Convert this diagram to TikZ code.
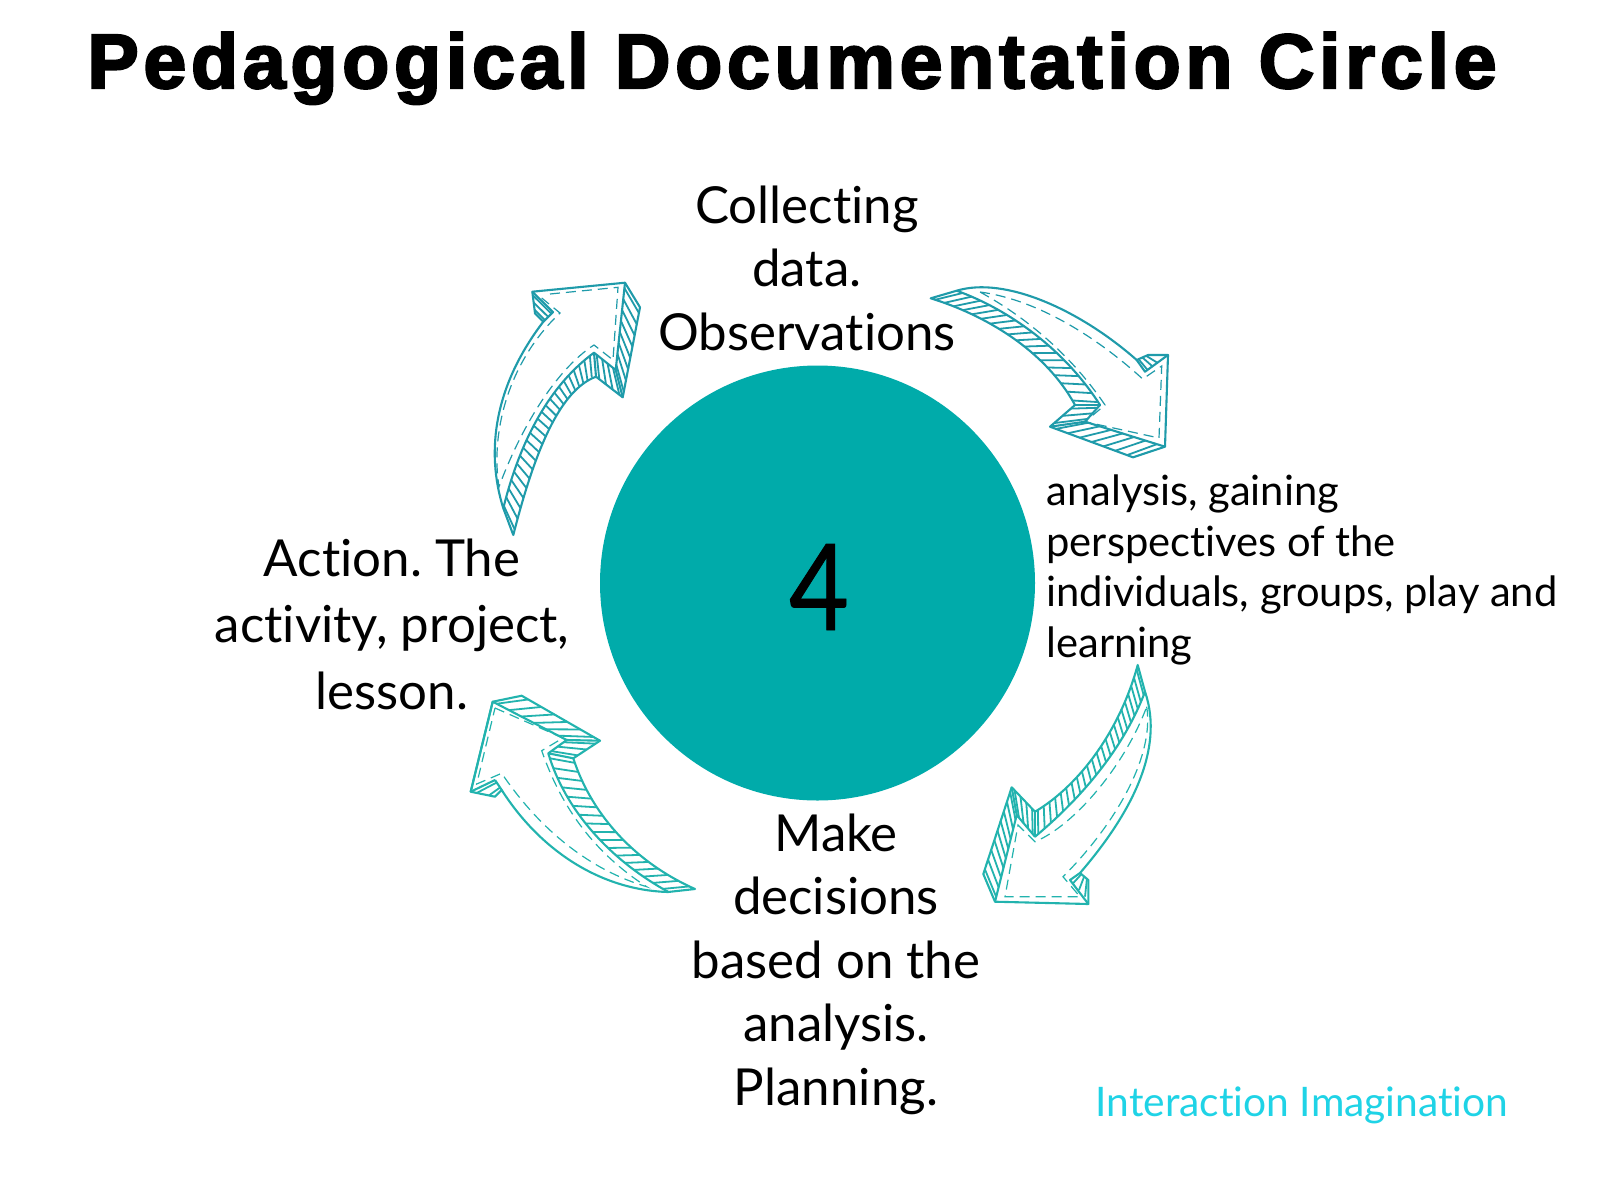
\documentclass[tikz,border=0pt]{standalone}
\usepackage{fontspec}
\usepackage{graphicx}
\setmainfont{Lato}[Ligatures={NoCommon,NoRare},Contextuals=NoAlternate]
\newfontfamily\titlef[FakeBold=3,LetterSpace=6.2]{Liberation Sans Bold}
\newfontfamily\fourf[FakeBold=0.8]{Lato}
\definecolor{circ}{HTML}{00ABAA}
\definecolor{darkt}{HTML}{1F9BAA}
\definecolor{lightt}{HTML}{22B3AE}
\definecolor{cyanT}{HTML}{1FD3E6}
\colorlet{ac}{darkt}
\tikzset{
 body/.style={draw=ac,fill=white,line width=2.1pt,line join=round},
 edge/.style={draw=ac,line width=2.1pt,line join=round},
 hatchl/.style={draw=ac,line width=1.8pt},
 dashl/.style={draw=ac,line width=1.2pt,dash pattern=on 10pt off 6pt},
 txt/.style={text=black,inner sep=0pt,align=center}
}
\newcommand\hb[4][0]{\foreach \i in {1,...,#4}{%
 \pgfmathsetmacro\hu{(\i-0.5)/#4}%
 \pgfmathsetmacro\hv{min(1,max(0,\hu+#1))}%
 \path #2 coordinate[pos=\hu] (hu);
 \path #3 coordinate[pos=\hv] (hv);
 \draw[hatchl] (hu)--(hv);}}
\begin{document}
\frenchspacing
\begin{tikzpicture}[x=1pt,y=-1pt]
\useasboundingbox (0,0) rectangle (1600,1200);
\fill[white] (0,0) rectangle (1600,1200);
\node[txt,anchor=base,font=\titlef\fontsize{77}{77}\selectfont] (title) at (792,88) {Pedagogical Documentation Circle};
\node[circle,fill=circ,minimum size=435pt,inner sep=0pt] (hub) at (817.5,583) {};
\node[txt,anchor=center,font=\fourf\fontsize{120}{120}\selectfont] (four) at (819,587) {\scalebox{.86}[1]{4}};
\node[txt,anchor=center,font=\frenchspacing\fontsize{51}{63.5}\selectfont] (collect) at (807,268) {Collecting\\data.\\Observations};
\node[txt,anchor=center,align=left,font=\frenchspacing\fontsize{41.7}{50.7}\selectfont] (anal) at (1302,570) {analysis, gaining\\perspectives of the\\individuals, groups, play and\\learning};
\node[txt,anchor=center,font=\frenchspacing\fontsize{51}{66.5}\selectfont] (act) at (392,624) {Action. The\\activity, project,\\lesson.};
\node[txt,anchor=center,font=\frenchspacing\fontsize{51}{63.5}\selectfont] (make) at (836,964) {Make\\decisions\\based on the\\analysis.\\Planning.};
\node[txt,anchor=center,text=cyanT,font=\fontsize{40.7}{41}\selectfont] (brand) at (1302,1105) {Interaction Imagination};

% arrow 1: top right
\colorlet{ac}{darkt}
\path[body] (930.7,298.3) -- (956.7,290.7) .. controls (1005,276) and (1080,310) .. (1136.7,360) -- (1148,355) -- (1168,355) -- (1165,446.7) -- (1133,457.3) -- (1050,426.7) -- (1075,405) .. controls (1045,350) and (985,315) .. cycle;
\hb[0.01]{(930.7,298.3) .. controls (985,315) and (1045,350) .. (1075,405)}{(956.7,290.7) .. controls (1010,310) and (1065,350) .. (1100,405)}{18}
\path[edge] (956.7,290.7) .. controls (1010,310) and (1065,350) .. (1100,405) -- (1085,421.7) -- (1165,446.7);
\path[edge] (1050,426.7) -- (1085,421.7);
\path[edge] (1075,405) -- (1100,405);
\hb{(1075,405) -- (1050,426.7)}{(1100,405) -- (1085,421.7)}{3}
\hb[-0.03]{(1050,426.7) -- (1133,457.3)}{(1085,421.7) -- (1165,446.7)}{7}
\path[edge] (1136.7,360) -- (1145,371.7) -- (1168,355);
\hb{(1136.7,360) -- (1148,355)}{(1145,371.7) -- (1160,361)}{3}
\path[dashl] (980,292) .. controls (1040,300) and (1100,340) .. (1142.7,379) -- (1161.7,366) -- (1159,438) -- (1085,421.7) -- (1105,405) .. controls (1080,368) and (1040,325) .. cycle;

% arrow 2: bottom right
\colorlet{ac}{lightt}
\path[body] (1137.7,665) -- (1145,691.7) .. controls (1165,750) and (1130,815) .. (1080,873) -- (1088.3,880) -- (1088.3,904) -- (995,901.7) -- (983.3,874) -- (1011.7,787.3) -- (1035,811.7) .. controls (1080,785) and (1120,730) .. cycle;
\hb[0.0]{(1137.7,665) .. controls (1120,730) and (1080,785) .. (1035,811.7)}{(1145,691.7) .. controls (1125,745) and (1085,795) .. (1035,836.7)}{23}
\path[edge] (1145,691.7) .. controls (1125,745) and (1085,795) .. (1035,836.7) -- (1016.7,815) -- (995,901.7);
\path[edge] (1011.7,787.3) -- (1016.7,815);
\path[edge] (1035,811.7) -- (1035,836.7);
\hb{(1011.7,787.3) -- (1035,811.7)}{(1016.7,815) -- (1035,836.7)}{4}
\hb[0.0]{(983.3,874) -- (1011.7,787.3)}{(995,901.7) -- (1016.7,815)}{9}
\path[edge] (1080,873) -- (1070,880) -- (1088.3,904);
\hb{(1080,873) -- (1088.3,880)}{(1070,880) -- (1088,900)}{3}
\path[dashl] (1146.7,706.7) .. controls (1155,760) and (1110,830) .. (1063,876.7) -- (1080,896.7) -- (1005,896.7) -- (1018,825) -- (1035,841.7) .. controls (1075,825) and (1125,765) .. cycle;

% arrow 3: bottom left
\colorlet{ac}{lightt}
\path[body] (695,889) -- (668,892) .. controls (600,890) and (540,850) .. (501.7,790) -- (495,796.7) -- (470.7,791.7) -- (492.7,701.7) -- (521.7,695.7) -- (600,740.7) -- (573.3,758.3) .. controls (590,810) and (630,860) .. cycle;
\hb[0.0]{(695,889) .. controls (630,860) and (590,810) .. (573.3,758.3)}{(668,891.7) .. controls (610,860) and (565,810) .. (548.3,753.3)}{17}
\path[edge] (668,891.7) .. controls (610,860) and (565,810) .. (548.3,753.3) -- (566.7,740) -- (492.7,701.7) -- (470.7,791.7);
\path[edge] (573.3,758.3) -- (548.3,753.3);
\path[edge] (566.7,740) -- (600,740.7);
\hb{(573.3,758.3) -- (600,740.7)}{(548.3,753.3) -- (566.7,740)}{3}
\hb[0.03]{(600,740.7) -- (521.7,695.7)}{(566.7,740) -- (492.7,701.7)}{6}
\path[edge] (495,780) -- (470.7,791.7);
\path[edge] (495,780) -- (501.7,790);
\hb{(470.7,791.7) -- (495,796.7)}{(495,780) -- (501.7,790)}{2}
\path[dashl] (495,708) -- (563,738) -- (541.7,750.7) .. controls (560,803) and (590,850) .. (646.7,886.7) .. controls (590,870) and (540,830) .. (501.7,773.3) -- (476.7,784) -- cycle;

% arrow 4: top left
\colorlet{ac}{darkt}
\path[body] (513.3,535) -- (503.3,508.3) .. controls (485,450) and (495,385) .. (543.3,321.7) -- (535,313.3) -- (532.3,291.7) -- (625,282.7) -- (640,307.3) -- (622.7,397.3) -- (596,376.7) .. controls (560,390) and (535,450) .. cycle;
\hb[-0.01]{(513.3,535) .. controls (535,450) and (560,390) .. (594,376.7)}{(503.3,508.3) .. controls (520,440) and (550,385) .. (594,352.7)}{23}
\path[edge] (503.3,508.3) .. controls (520,440) and (550,385) .. (594,352.7) -- (615.7,370) -- (625,282.7);
\path[edge] (594,352.7) -- (596,376.7);
\path[edge] (615.7,370) -- (622.7,397.3);
\hb{(594,352.7) -- (615.7,370)}{(596,376.7) -- (622.7,397.3)}{4}
\hb[0]{(615.7,370) -- (625,282.7)}{(622.7,397.3) -- (640,307.3)}{8}
\path[edge] (532.3,291.7) -- (553,312) -- (543.3,321.7);
\hb{(535,313.3) -- (532.3,291.7)}{(543.3,321.7) -- (553,312)}{3}
\path[dashl] (550,294) -- (618,287.3) -- (613,360) -- (594,345) .. controls (555,370) and (520,430) .. (499,486.7) .. controls (490,430) and (510,360) .. (560,313) -- (541.7,298);
\end{tikzpicture}
\end{document}
